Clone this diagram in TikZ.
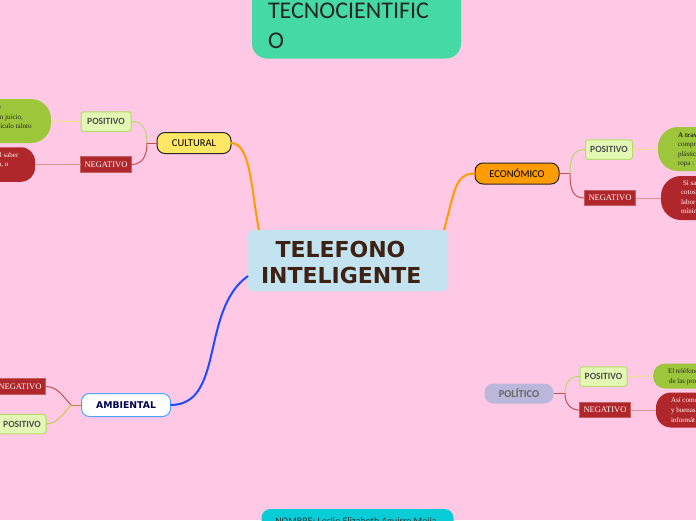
\documentclass[tikz,border=0pt]{standalone}
\usepackage{fontspec}
\setmainfont{Carlito}
\newfontfamily\djfont{DejaVu Sans}
\newfontfamily\libfont{Liberation Serif}
\usetikzlibrary{calc}
\definecolor{bgp}{HTML}{FFC8E4}
\definecolor{grn}{HTML}{9DC63B}
\definecolor{rd}{HTML}{B0272B}
\definecolor{posf}{HTML}{E3F8B4}
\definecolor{posl}{HTML}{B5DB6B}
\definecolor{teal}{HTML}{45D9A6}
\definecolor{cy}{HTML}{09CDD6}
\definecolor{blu}{HTML}{C4E3F0}
\definecolor{lav}{HTML}{B9B7DA}
\definecolor{org}{HTML}{FF9D00}
\definecolor{yel}{HTML}{FFE766}
\definecolor{amb}{HTML}{1F4BFF}
\definecolor{brn}{HTML}{3E2314}
\tikzset{
 x=1pt,y=-1pt,
 base/.style={inner sep=0pt,outer sep=0pt,align=center,anchor=center},
 posbox/.style={base,draw=posl,line width=1pt,fill=posf,rounded corners=2.5pt,minimum width=50pt,minimum height=19.5pt,font=\bfseries\fontsize{9.5}{10}\selectfont,text=black!70},
 negbox/.style={base,draw=rd!75!white,line width=.6pt,fill=rd,minimum width=51pt,minimum height=15.5pt,font=\libfont\fontsize{8.5}{10}\selectfont,text=white!90!pink},
 cloudg/.style={base,fill=grn,rounded corners=20pt},
 cloudr/.style={base,fill=rd,rounded corners=20pt},
 tg/.style={base,anchor=west,text height=5pt,text depth=1.5pt,font=\libfont\fontsize{7}{7}\selectfont,text=black!85},
 tr/.style={base,anchor=west,text height=5pt,text depth=1.5pt,font=\libfont\fontsize{7}{7}\selectfont,text=white!90!pink},
 main/.style={base,draw=black!85,line width=1pt,rounded corners=8pt,minimum height=21pt,font=\fontsize{10.5}{11}\selectfont,text=black},
 titlefont/.style={base,anchor=west,font=\djfont\bfseries\fontsize{22}{26}\selectfont,text=brn},
 lnfork/.style={line width=1pt},
 trunk/.style={line width=2pt},
 leaf/.style={line width=1pt}
}
\begin{document}
\begin{tikzpicture}
\useasboundingbox (0,0) rectangle (696,520);
\clip (0,0) rectangle (696,520);
\fill[bgp] (0,0) rectangle (696,520);
% top and bottom
\node[base,fill=teal,rounded corners=15pt,minimum width=209pt,minimum height=100pt] (tec) at (356.5,8.5) {};
\node[base,anchor=west,font=\fontsize{24}{30}\selectfont,text=black!85,align=left] (tectext) at (268,26) {TECNOCIENTIFIC\\O};
\node[base,fill=cy,rounded corners=9pt,minimum width=192pt,minimum height=40pt] (nom) at (357.5,529) {};
\node[base,font=\fontsize{10}{11}\selectfont,text=black!80] (nomt) at (356,521.5) {NOMBRE: Leslie Elizabeth Aguirre Mejia};
% center
\node[base,fill=blu,rounded corners=5pt,minimum width=200pt,minimum height=61pt] (c) at (348,260.5) {};
\node[titlefont] (ct1) at (275.5,249) {TELEFONO};
\node[titlefont] (ct2) at (261,275) {INTELIGENTE};
% branches
\node[main,fill=yel,minimum width=74pt] (cul) at (194,143) {CULTURAL};
\node[main,fill=org,minimum width=84pt] (eco) at (517,173.5) {ECONÓMICO};
\node[base,fill=lav,rounded corners=9pt,minimum width=69pt,minimum height=20pt,font=\bfseries\fontsize{10.5}{11}\selectfont,text=black!60] (pol) at (519,393.5) {POLÍTICO};
\node[base,draw=blue!50!cyan!70,line width=1pt,fill=white,rounded corners=8pt,minimum width=89pt,minimum height=23pt,font=\djfont\bfseries\fontsize{9.3}{10}\selectfont,text=blue!30!black] (amb) at (126,405) {AMBIENTAL};
% leaves
\node[posbox] (p1) at (106,121.5) {POSITIVO};
\node[negbox] (n1) at (106,164.5) {NEGATIVO};
\node[posbox,minimum width=47pt] (p2) at (609,149.5) {POSITIVO};
\node[negbox] (n2) at (610,198) {NEGATIVO};
\node[posbox,minimum width=47pt] (p3) at (603.5,376.5) {POSITIVO};
\node[negbox] (n3) at (605,410) {NEGATIVO};
\node[negbox] (n4) at (20,386.5) {NEGATIVO};
\node[posbox,minimum width=48pt] (p4) at (22,424) {POSITIVO};
% clouds
\node[cloudg,minimum width=81pt,minimum height=44pt] (g1) at (10.5,121) {};
\node[cloudr,rounded corners=14pt,minimum width=65pt,minimum height=34.5pt] (r1) at (2.5,164.5) {};
\node[cloudg,minimum width=72pt,minimum height=44pt] (g2) at (694,149) {};
\node[cloudr,minimum width=69pt,minimum height=44pt] (r2) at (695.5,198) {};
\node[cloudg,rounded corners=12pt,minimum width=77pt,minimum height=25pt] (g3) at (691.5,376) {};
\node[cloudr,rounded corners=15pt,minimum width=74pt,minimum height=35pt] (r3) at (693,410) {};
\node[tg] (t1a) at (-2,108) {e};
\node[tg] (t1b) at (-2,117.5) {:n juicio,};
\node[tg] (t1c) at (-2,127) {fícalo talnto};
\node[tr] (t2a) at (-2,155.5) {:l saber};
\node[tr] (t2b) at (-2,165) {n, o};
\node[tg,font=\libfont\bfseries\fontsize{7}{7}\selectfont] (t3a) at (678,135.5) {A través};
\node[tg] (t3b) at (678,145) {compra};
\node[tg] (t3c) at (678,154.5) {plástico};
\node[tg] (t3d) at (678,164) {ropa :};
\node[tr] (t4a) at (683,183.5) {Si sa};
\node[tr] (t4b) at (681,193) {cotos};
\node[tr] (t4c) at (681,202.5) {labor};
\node[tr] (t4d) at (681,212) {mínim};
\node[tg] (t5a) at (668,372) {El teléfono};
\node[tg] (t5b) at (669,382) {de las pro};
\node[tr] (t6a) at (671,401) {Así como};
\node[tr] (t6b) at (671,411) {y buenas};
\node[tr] (t6c) at (671,421) {informát};
% connectors centre
\coordinate (c1) at (259,230);\coordinate (c2) at (444,230);\coordinate (c3) at (248,276);
\draw[org,trunk] (cul.east) .. controls (251,143) and (251,190) .. (c1);
\draw[org,trunk] (eco.west) .. controls (455,173.5) and (455,190) .. (c2);
\draw[amb,trunk] (amb.east) .. controls (225,405) and (200,310) .. (c3);
% forks
\coordinate (f1) at (147,143);\coordinate (f2) at (570,173.5);\coordinate (f3) at (565,393.5);\coordinate (f4) at (71,405);
\draw[rd!80!white,lnfork] (cul.west) -- (f1);
\draw[posl,lnfork] (f1) .. controls (147,130) and (143,121) .. (p1.east);
\draw[rd!80!white,lnfork] (f1) .. controls (147,155) and (143,164.5) .. (n1.east);
\draw[rd!80!white,lnfork] (eco.east) -- (f2);
\draw[posl,lnfork] (f2) .. controls (570,158) and (573,149) .. (p2.west);
\draw[rd!80!white,lnfork] (f2) .. controls (570,190) and (573,198) .. (n2.west);
\draw[rd!80!white,lnfork] (pol.east) -- (f3);
\draw[posl,lnfork] (f3) .. controls (565,382) and (570,376) .. (p3.west);
\draw[rd!80!white,lnfork] (f3) .. controls (565,403) and (570,410) .. (n3.west);
\draw[brown!80!orange,lnfork] (amb.west) -- (f4);
\draw[rd!80!white,lnfork] (f4) .. controls (62,395) and (57,386.5) .. (n4.east);
\draw[posl!80!orange,lnfork] (f4) .. controls (62,415) and (57,424) .. (p4.east);
% leaf lines
\draw[posf!80!orange,leaf] (p1.west) -- (g1.east);
\draw[rd!50!white,leaf] (n1.west) -- (r1.east);
\draw[posf!80!orange,leaf] (p2.east) -- (g2.west);
\draw[rd!50!white,leaf] (n2.east) -- (r2.west);
\draw[posf!80!orange,leaf] (p3.east) -- (g3.west);
\draw[rd!50!white,leaf] (n3.east) -- (r3.west);
\end{tikzpicture}
\end{document}
